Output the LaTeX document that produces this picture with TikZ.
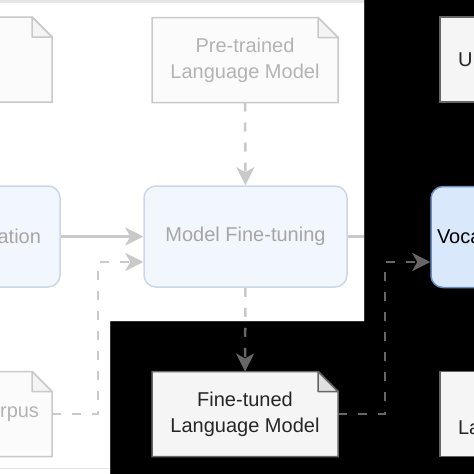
\documentclass[tikz,border=0pt]{standalone}
\usepackage{fontspec}
\setmainfont{Liberation Sans}
\usetikzlibrary{arrows.meta,calc}
\pgfdeclarelayer{back}
\pgfdeclarelayer{shapes}
\pgfdeclarelayer{veil}
\pgfsetlayers{back,shapes,main,veil}
\definecolor{hifill}{HTML}{F5F5F5}
\definecolor{histroke}{HTML}{666666}
\definecolor{hitext}{HTML}{262626}
\definecolor{foldfill}{HTML}{E0E0E0}
\definecolor{bluefill}{HTML}{DAE8FC}
\definecolor{bluestroke}{HTML}{6C8EBF}
\definecolor{edgegrey}{HTML}{E6E6E6}
\tikzset{
  lbl/.style={font=\fontsize{20}{26}\selectfont},
  docnode/.style={rectangle, draw=none, minimum width=186pt, minimum height=85pt,
    inner sep=0pt, outer sep=0pt, lbl, align=center, text=hitext},
  docshape/.style={fill=hifill, draw=histroke, line width=1.5pt},
  foldshape/.style={fill=foldfill, draw=histroke, line width=1.5pt, line join=round},
  bluebox/.style={rectangle, rounded corners=12pt, fill=bluefill, draw=bluestroke,
    line width=1.5pt, minimum width=203pt, minimum height=101pt, inner sep=0pt,
    lbl, align=center, text=black},
  greybox/.style={rectangle, fill=hifill, draw=histroke, line width=1.5pt,
    minimum width=186pt, minimum height=85pt, inner sep=0pt, lbl, text=hitext},
  conn/.style={draw=histroke, line width=2.5pt},
  dashconn/.style={conn, dash pattern=on 9pt off 11pt},
  arrowtip/.style={-{Stealth[length=18pt,width=18pt,inset=5pt]}}
}
\newcommand\docoutline[1]{%
  \begin{pgfonlayer}{shapes}
    \draw[docshape] (#1.north west) -- ([xshift=-20pt]#1.north east)
      -- ([yshift=-20pt]#1.north east) -- (#1.south east) -- (#1.south west) -- cycle;
    \draw[foldshape] ([xshift=-20pt]#1.north east) -- ([xshift=-20pt,yshift=-20pt]#1.north east)
      -- ([yshift=-20pt]#1.north east) -- cycle;
  \end{pgfonlayer}}
\begin{document}
\begin{tikzpicture}[x=1pt,y=-1pt]
  \clip (0,0) rectangle (474,474);
  \begin{pgfonlayer}{back}
    \fill[black] (0,0) rectangle (474,474);
    \fill[white] (0,0) -- (364,0) -- (364,321) -- (110,321) -- (110,474) -- (0,474) -- cycle;
  \end{pgfonlayer}

  % documents
  \node[docnode] (tl) at (-41,59.5) {};
  \docoutline{tl}
  \node[docnode] (pre) at (245,60) {Pre-trained\\Language Model};
  \docoutline{pre}
  \node[docnode, align=right, text width=160pt, inner xsep=13pt] (corpus) at (-41,414) {rpus};
  \docoutline{corpus}
  \node[docnode] (ft) at (245,414) {Fine-tuned\\Language Model};
  \docoutline{ft}

  % process boxes
  \node[bluebox, align=right, text width=165pt, inner xsep=19pt] (prep) at (-41.5,236.5) {ation};
  \node[bluebox] (mft) at (245.5,236.5) {Model Fine-tuning};
  \node[bluebox, align=left, text width=191pt, inner xsep=6pt] (voc) at (532.5,237) {Voca};

  % right boxes
  \node[greybox, align=left, text width=150pt, inner xsep=18pt] (ub) at (533,59.5) {U};
  \node[greybox, align=left, text width=150pt, inner xsep=18pt] (lb) at (533,414) {\vphantom{Fine-tuned}\\La};

  % connectors
  \coordinate (cut) at (364,236.5);
  \draw[conn, arrowtip] (prep.east) -- (mft.west);
  \draw[conn] (mft.east) -- (cut);
  \draw[dashconn, arrowtip] (pre.south) -- (mft.north);
  \draw[dashconn, arrowtip] (mft.south) -- (ft.north);
  \draw[dashconn, arrowtip] (corpus.east) -- ++(46,0) |- ([yshift=-25.5pt]mft.west);
  \draw[dashconn, arrowtip] (ft.east) -- ++(47,0) |- ([yshift=-25pt]voc.west);

  \begin{pgfonlayer}{veil}
    \fill[white, opacity=0.65] (0,0) -- (364,0) -- (364,321) -- (110,321) -- (110,474) -- (0,474) -- cycle;
    \fill[edgegrey] (0,0) rectangle (364,2.5);
    \draw[edgegrey, line width=1pt] (0,468) -- (110,468);
  \end{pgfonlayer}
\end{tikzpicture}
\end{document}
